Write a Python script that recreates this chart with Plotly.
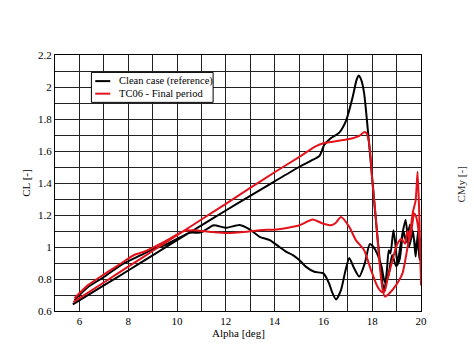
import plotly.graph_objects as go

# Lift coefficient hysteresis loops (upstroke followed by downstroke)
clean_alpha = [5.73, 7.0, 8.0, 9.0, 10.12, 11.0, 12.0, 13.0, 14.0, 15.0, 15.5, 15.84,
               16.04, 16.3, 16.65, 16.93, 17.2, 17.35, 17.44, 17.55, 17.67, 17.81, 18.0,
               18.15, 18.3, 18.42, 18.5, 18.6, 18.68, 18.75, 18.87, 18.95, 19.03, 19.15,
               19.24, 19.37, 19.51, 19.67, 19.78, 19.88, 19.95, 20.0,
               19.94, 19.87, 19.8, 19.7, 19.55, 19.4, 19.28, 19.12, 18.98, 18.82, 18.66,
               18.52, 18.38, 18.2, 18.05, 17.9, 17.7, 17.47, 17.25, 17.06, 16.9, 16.72,
               16.52, 16.35, 16.24, 16.0, 15.63, 15.29, 15.0, 14.75, 14.48, 14.2, 13.8,
               13.39, 12.98, 12.57, 12.03, 11.48, 11.1, 10.94, 10.53, 10.12, 9.47, 9.06,
               8.52, 7.7, 7.02, 6.34, 5.8]
clean_cl = [0.642, 0.760, 0.853, 0.948, 1.053, 1.135, 1.228, 1.320, 1.410, 1.500, 1.540, 1.570,
            1.640, 1.680, 1.715, 1.790, 1.937, 2.040, 2.072, 2.045, 1.960, 1.750, 1.430,
            1.170, 0.930, 0.770, 0.730, 0.850, 0.980, 0.960, 1.105, 1.020, 0.900, 1.000,
            1.085, 1.170, 1.000, 1.100, 0.940, 1.100, 0.950, 1.050,
            0.920, 1.050, 0.980, 1.060, 1.140, 1.030, 1.100, 0.920, 0.880, 0.950, 0.820,
            0.780, 0.880, 0.960, 1.000, 1.018, 0.900, 0.815, 0.870, 0.932, 0.850, 0.730,
            0.672, 0.720, 0.770, 0.835, 0.845, 0.876, 0.920, 0.949, 0.970, 1.000, 1.043,
            1.063, 1.110, 1.138, 1.120, 1.135, 1.100, 1.090, 1.089, 1.060, 1.010, 0.990,
            0.949, 0.887, 0.814, 0.748, 0.668]

tc06_alpha = [5.75, 7.0, 8.0, 9.0, 10.12, 11.0, 12.0, 13.0, 14.0, 15.0, 15.7, 16.0,
              16.38, 17.06, 17.47, 17.67, 17.75, 17.8, 17.9, 18.0, 18.15, 18.3, 18.42,
              18.52, 18.7, 18.97, 19.24, 19.45, 19.58, 19.67, 19.78, 19.86, 19.93, 20.0,
              19.97, 19.9, 19.8, 19.72, 19.65, 19.55, 19.45, 19.35, 19.2, 19.03, 18.83,
              18.62, 18.5, 18.38, 18.22, 17.95, 17.67, 17.33, 17.06, 16.72, 16.5, 16.31,
              15.97, 15.56, 15.02, 14.61, 14.07, 13.39, 12.84, 12.03, 11.48, 10.67, 10.29,
              9.47, 8.65, 8.24, 7.7, 7.02, 6.34, 5.8]
tc06_cl = [0.655, 0.778, 0.877, 0.975, 1.085, 1.172, 1.270, 1.369, 1.467, 1.562, 1.630, 1.648,
           1.658, 1.675, 1.695, 1.718, 1.715, 1.700, 1.620, 1.420, 1.180, 0.900, 0.740,
           0.690, 0.710, 0.760, 0.835, 1.000, 1.120, 1.220, 1.290, 1.470, 1.200, 0.760,
           0.950, 1.100, 1.190, 1.210, 1.150, 1.050, 1.100, 1.020, 1.050, 1.020, 0.918,
           0.793, 0.720, 0.720, 0.751, 0.856, 0.980, 1.043, 1.126, 1.188, 1.150, 1.136,
           1.147, 1.172, 1.136, 1.122, 1.110, 1.105, 1.095, 1.087, 1.093, 1.105, 1.100,
           1.032, 0.970, 0.950, 0.897, 0.830, 0.760, 0.680]

series_names = ["Clean case (reference)", "TC06 - Final period"]
series_colors = ["#000000", "#e3121b"]

SERIF = "Liberation Serif"

fig = go.Figure()
for name, xs, ys, col in [(series_names[0], clean_alpha, clean_cl, series_colors[0]),
                          (series_names[1], tc06_alpha, tc06_cl, series_colors[1])]:
    fig.add_trace(go.Scatter(x=xs, y=ys, mode="lines", name=name, showlegend=False,
                             line=dict(color=col, width=2, shape="spline", smoothing=0.6)))

axis_common = dict(showline=True, linecolor="#000", linewidth=1, mirror=True,
                   showgrid=True, gridcolor="#222", gridwidth=1, zeroline=False,
                   ticks="", tickfont=dict(family=SERIF, size=11, color="#000"))
fig.update_xaxes(range=[5, 20], tick0=0, dtick=2,
                 minor=dict(dtick=1, showgrid=True, gridcolor="#222", gridwidth=1),
                 **axis_common)
fig.update_yaxes(range=[0.6, 2.2], tick0=0, dtick=0.2,
                 minor=dict(dtick=0.1, showgrid=True, gridcolor="#222", gridwidth=1),
                 **axis_common)

# Hand-drawn legend box
lx0, lx1, ly0, ly1 = 0.0995, 0.432, 0.815, 0.932
shapes = [dict(type="rect", xref="paper", yref="paper", x0=lx0, x1=lx1, y0=ly0, y1=ly1,
               fillcolor="white", line=dict(color="#000", width=1), layer="above")]
annotations = []
for i, (name, col) in enumerate(zip(series_names, series_colors)):
    yy = 0.898 - i * 0.049
    shapes.append(dict(type="line", xref="paper", yref="paper", x0=0.110, x1=0.151,
                       y0=yy, y1=yy, line=dict(color=col, width=2), layer="above"))
    annotations.append(dict(xref="paper", yref="paper", x=0.170, y=yy, text=name,
                            showarrow=False, xanchor="left", yanchor="middle",
                            font=dict(family=SERIF, size=10.5, color="#000")))

annotations += [
    dict(xref="paper", yref="paper", x=0.5, y=-0.086, text="Alpha [deg]", showarrow=False,
         xanchor="center", yanchor="middle", font=dict(family=SERIF, size=11, color="#000")),
    dict(xref="paper", yref="paper", x=-0.080, y=0.5, text="CL [-]", showarrow=False,
         textangle=-90, xanchor="center", yanchor="middle",
         font=dict(family=SERIF, size=11, color="#000")),
    dict(xref="paper", yref="paper", x=1.110, y=0.495, text="CMy [-]", showarrow=False,
         textangle=-90, xanchor="center", yanchor="middle",
         font=dict(family=SERIF, size=11, color="#333")),
]

fig.update_layout(width=474, height=345, margin=dict(l=55, r=53, t=55, b=34),
                  paper_bgcolor="white", plot_bgcolor="white",
                  font=dict(family=SERIF),
                  shapes=shapes, annotations=annotations)

fig.write_html("out.html")
